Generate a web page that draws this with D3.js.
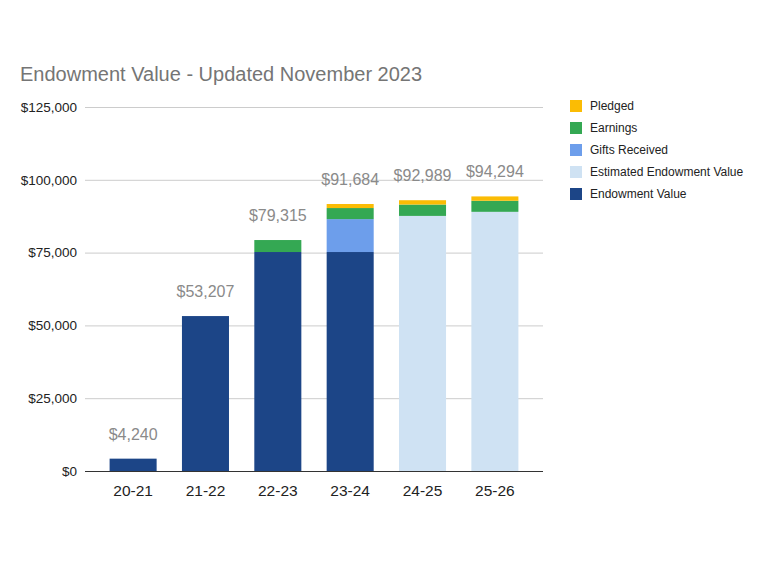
<!DOCTYPE html>
<html>
<head>
<meta charset="utf-8">
<script src="https://cdn.jsdelivr.net/npm/d3@7"></script>
<style>
  body { margin: 0; background: #fff; }
  text { font-family: "Liberation Sans", Arial, sans-serif; }
</style>
</head>
<body>
<svg id="chart" width="763" height="562"></svg>
<script>
'use strict';

// years along the x axis
var years = ['20-21', '21-22', '22-23', '23-24', '24-25', '25-26'];

// stacked series, bottom to top
var endowmentValue = [4240, 53207, 75200, 75200, 0, 0];
var estimatedValue = [0, 0, 0, 0, 87600, 89000];
var giftsReceived = [0, 0, 0, 11300, 0, 0];
var earnings = [0, 0, 4115, 3800, 3900, 3800];
var pledged = [0, 0, 0, 1384, 1489, 1494];

// printed totals above each bar
var totals = [4240, 53207, 79315, 91684, 92989, 94294];

var yTicks = [0, 25000, 50000, 75000, 100000, 125000];

var seriesNames = ['Endowment Value', 'Estimated Endowment Value', 'Gifts Received', 'Earnings', 'Pledged'];
var seriesColors = ['#1c4587', '#cfe2f3', '#6d9eeb', '#34a853', '#fbbc04'];

var svg = d3.select('#chart');

var x = d3.scaleBand()
  .domain(years)
  .range([85, 543])
  .paddingInner(0.35)
  .paddingOuter(0.34);

var y = d3.scaleLinear()
  .domain([0, 125000])
  .range([471, 107]);

var rows = years.map(function(yr, i) {
  return {
    year: yr,
    'Endowment Value': endowmentValue[i],
    'Estimated Endowment Value': estimatedValue[i],
    'Gifts Received': giftsReceived[i],
    'Earnings': earnings[i],
    'Pledged': pledged[i]
  };
});

var stacked = d3.stack().keys(seriesNames)(rows);
var color = d3.scaleOrdinal().domain(seriesNames).range(seriesColors);

// title
svg.append('text')
  .attr('x', 20)
  .attr('y', 81)
  .attr('font-size', 20)
  .attr('fill', '#757575')
  .text('Endowment Value - Updated November 2023');

// gridlines + y labels
var yAxis = svg.append('g')
  .attr('transform', 'translate(85,0)')
  .call(d3.axisLeft(y)
    .tickValues(yTicks)
    .tickSize(-458)
    .tickPadding(8)
    .tickFormat(function(d) { return '$' + d3.format(',')(d); }));
yAxis.select('.domain').remove();
yAxis.selectAll('.tick line').attr('stroke', '#cccccc');
yAxis.selectAll('.tick text')
  .attr('font-size', 13.5)
  .attr('fill', '#222')
  .style('font-family', '"Liberation Sans", Arial, sans-serif');

// bars
svg.append('g')
  .selectAll('g')
  .data(stacked)
  .join('g')
  .attr('fill', function(d) { return color(d.key); })
  .selectAll('rect')
  .data(function(d) { return d; })
  .join('rect')
  .attr('x', function(d) { return x(d.data.year); })
  .attr('width', x.bandwidth())
  .attr('y', function(d) { return y(d[1]); })
  .attr('height', function(d) { return y(d[0]) - y(d[1]); });

// baseline
var xAxis = svg.append('g')
  .attr('transform', 'translate(0,471)')
  .call(d3.axisBottom(x).tickSize(0).tickPadding(14));
xAxis.select('.domain').attr('stroke', '#333').attr('d', 'M85,0.5H543');
xAxis.selectAll('.tick text')
  .attr('font-size', 15.5)
  .attr('fill', '#222')
  .style('font-family', '"Liberation Sans", Arial, sans-serif');

// total labels
svg.append('g')
  .selectAll('text')
  .data(totals)
  .join('text')
  .attr('x', function(d, i) { return x(years[i]) + x.bandwidth() / 2; })
  .attr('y', function(d) { return y(d) - 19; })
  .attr('text-anchor', 'middle')
  .attr('font-size', 16)
  .attr('fill', '#8a8a8a')
  .text(function(d) { return '$' + d3.format(',')(d); });

// legend, top entry is the top of the stack
var legendItems = seriesNames.slice().reverse();
var legend = svg.append('g')
  .selectAll('g')
  .data(legendItems)
  .join('g')
  .attr('transform', function(d, i) { return 'translate(570,' + (100 + i * 22) + ')'; });

legend.append('rect')
  .attr('width', 12)
  .attr('height', 12)
  .attr('fill', function(d) { return color(d); });

legend.append('text')
  .attr('x', 20)
  .attr('y', 10)
  .attr('font-size', 12)
  .attr('fill', '#222')
  .text(function(d) { return d; });
</script>
</body>
</html>
